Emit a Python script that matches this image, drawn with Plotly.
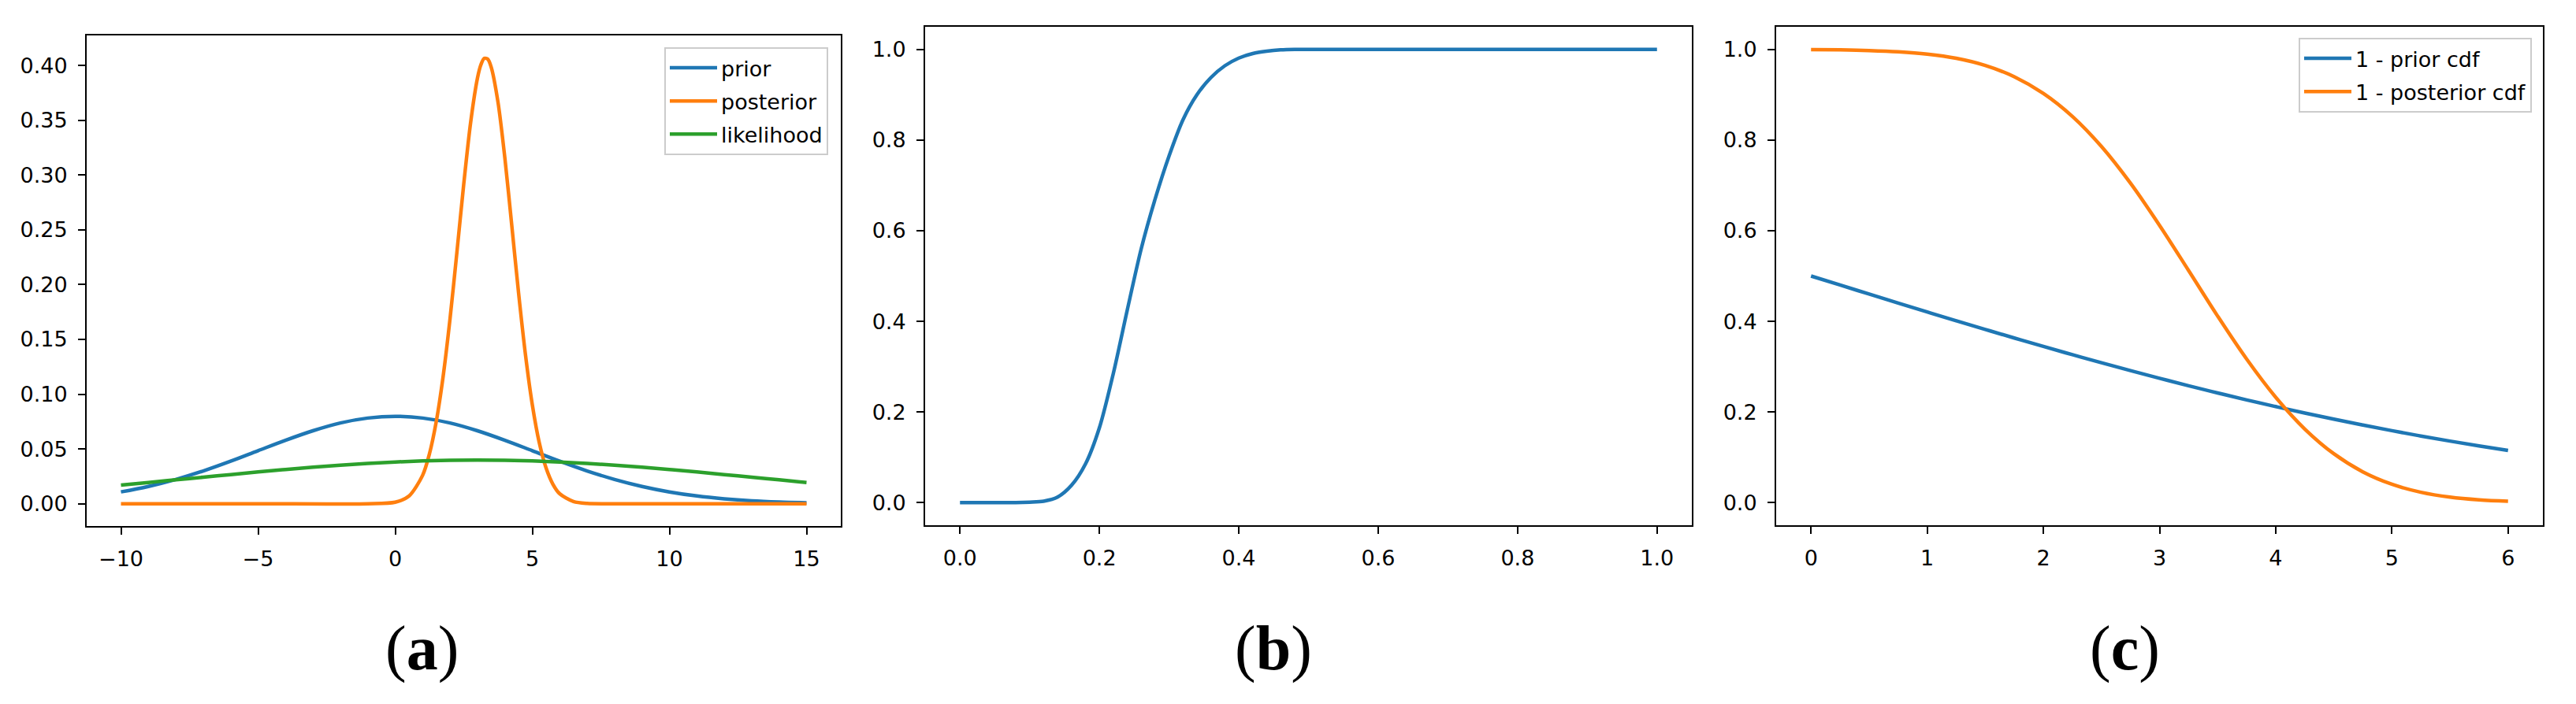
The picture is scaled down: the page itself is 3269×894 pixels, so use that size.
import plotly.graph_objects as go

# (a) densities
x_a = [-10, -9, -8, -7, -6, -5, -4, -3, -2, -1, 0, 1, 2, 3, 4, 5, 6, 7, 8, 9, 10, 11, 12, 13, 14, 15]
prior_a = [0.0108, 0.0158, 0.0222, 0.0299, 0.0388, 0.0484, 0.0579, 0.0666, 0.0737, 0.0782, 0.0798,
           0.0782, 0.0737, 0.0666, 0.0579, 0.0484, 0.0388, 0.0299, 0.0222, 0.0158, 0.0108,
           0.0071, 0.0045, 0.0027, 0.0016, 0.0009]
likelihood_a = [0.0171, 0.0194, 0.0218, 0.0242, 0.0266, 0.0290, 0.0312, 0.0333, 0.0352, 0.0368, 0.0381,
                0.0391, 0.0397, 0.0399, 0.0397, 0.0391, 0.0381, 0.0368, 0.0352, 0.0333, 0.0312,
                0.0290, 0.0266, 0.0242, 0.0218, 0.0194]
x_post = [-10, -5, -1, 0, 0.5, 1.0, 1.25, 1.5, 1.75, 2.0, 2.25, 2.5, 2.75, 3.0, 3.125, 3.25, 3.375, 3.5,
          3.75, 4.0, 4.25, 4.5, 4.75, 5.0, 5.25, 5.5, 5.75, 6.0, 6.5, 7.0, 8.0, 10, 15]
posterior_a = [0, 0, 0, 0.0014, 0.0069, 0.0259, 0.0456, 0.0753, 0.1165, 0.1688, 0.2293, 0.2917, 0.3477,
               0.3884, 0.4006, 0.4065, 0.4058, 0.3986, 0.3663, 0.3154, 0.2544, 0.1923, 0.1362, 0.0904,
               0.0562, 0.0328, 0.0179, 0.0091, 0.0020, 0.0003, 0, 0, 0]

# (b)
x_b = [0, 0.05, 0.08, 0.1, 0.12, 0.14, 0.16, 0.18, 0.2, 0.22, 0.24, 0.26, 0.28, 0.3, 0.32, 0.34, 0.36,
       0.38, 0.4, 0.42, 0.44, 0.46, 0.48, 0.5, 0.6, 0.7, 0.8, 0.9, 1.0]
y_b = [0, 0, 0, 0.001, 0.003, 0.012, 0.038, 0.085, 0.165, 0.285, 0.425, 0.56, 0.67, 0.765, 0.845, 0.90,
       0.938, 0.964, 0.981, 0.991, 0.996, 0.999, 1.0, 1.0, 1.0, 1.0, 1.0, 1.0, 1.0]

# (c) survival curves
x_c = [0, 0.25, 0.5, 0.75, 1.0, 1.25, 1.5, 1.75, 2.0, 2.25, 2.5, 2.75, 3.0, 3.25, 3.5, 3.75,
       4.0, 4.25, 4.5, 4.75, 5.0, 5.25, 5.5, 5.75, 6.0]
prior_c = [0.5, 0.4801, 0.4602, 0.4404, 0.4207, 0.4013, 0.3821, 0.3632, 0.3446, 0.3264, 0.3085,
           0.2912, 0.2743, 0.2578, 0.2420, 0.2266, 0.2119, 0.1977, 0.1841, 0.1711, 0.1587,
           0.1469, 0.1357, 0.1251, 0.1151]
posterior_c = [0.9996, 0.9990, 0.9976, 0.9949, 0.9897, 0.9804, 0.9646, 0.9398, 0.9030, 0.8522, 0.7858,
               0.7047, 0.6118, 0.5122, 0.4116, 0.3166, 0.2324, 0.1624, 0.1078, 0.0678, 0.0404,
               0.0228, 0.0121, 0.0061, 0.0029]

BLUE, ORANGE, GREEN = "#1f77b4", "#ff7f0e", "#2ca02c"
W, H = 3269, 894
LW = 4.5

fig = go.Figure()
fig.add_trace(go.Scatter(x=x_a, y=prior_a, name="prior", mode="lines", legendgroup="g1",
                         line=dict(color=BLUE, width=LW, shape="spline"),
                         xaxis="x", yaxis="y", legend="legend"))
fig.add_trace(go.Scatter(x=x_post, y=posterior_a, name="posterior", mode="lines", legendgroup="g2",
                         line=dict(color=ORANGE, width=LW, shape="spline", smoothing=0.8),
                         xaxis="x", yaxis="y", legend="legend"))
fig.add_trace(go.Scatter(x=x_a, y=likelihood_a, name="likelihood", mode="lines", legendgroup="g3",
                         line=dict(color=GREEN, width=LW, shape="spline"),
                         xaxis="x", yaxis="y", legend="legend"))
fig.add_trace(go.Scatter(x=x_b, y=y_b, mode="lines", showlegend=False,
                         line=dict(color=BLUE, width=LW, shape="spline", smoothing=0.8),
                         xaxis="x2", yaxis="y2"))
fig.add_trace(go.Scatter(x=x_c, y=prior_c, name="1 - prior cdf", mode="lines", legendgroup="g4",
                         line=dict(color=BLUE, width=LW, shape="spline"),
                         xaxis="x3", yaxis="y3", legend="legend2"))
fig.add_trace(go.Scatter(x=x_c, y=posterior_c, name="1 - posterior cdf", mode="lines", legendgroup="g5",
                         line=dict(color=ORANGE, width=LW, shape="spline"),
                         xaxis="x3", yaxis="y3", legend="legend2"))

tickfont = dict(family="DejaVu Sans", size=27, color="black")
ax = dict(showline=True, linecolor="black", linewidth=2, mirror=True, ticks="outside", ticklen=9,
          tickwidth=2, tickcolor="black", showgrid=False, zeroline=False, tickfont=tickfont,
          ticklabelstandoff=8)

def xs(a, b):
    return [a / W, b / W]

def ys(top, bottom):
    return [(H - bottom) / H, (H - top) / H]

legend_style = dict(xanchor="right", yanchor="top", bgcolor="rgba(255,255,255,0.8)",
                    bordercolor="#cccccc", borderwidth=2, tracegroupgap=4, itemwidth=60,
                    font=dict(family="DejaVu Sans", size=27, color="black"))

fig.update_layout(
    width=W, height=H, autosize=False,
    margin=dict(l=0, r=0, t=0, b=0),
    paper_bgcolor="white", plot_bgcolor="white",
    xaxis=dict(ax, domain=xs(110, 1067), range=[-11.25, 16.25], dtick=5, tick0=0, anchor="y"),
    yaxis=dict(ax, domain=ys(45, 668), range=[-0.02035, 0.4274], dtick=0.05, tick0=0, tickformat=".2f", anchor="x"),
    xaxis2=dict(ax, domain=xs(1174, 2147), range=[-0.05, 1.05], dtick=0.2, tick0=0, tickformat=".1f", anchor="y2"),
    yaxis2=dict(ax, domain=ys(34, 667), range=[-0.05, 1.05], dtick=0.2, tick0=0, tickformat=".1f", anchor="x2"),
    xaxis3=dict(ax, domain=xs(2254, 3227), range=[-0.3, 6.3], dtick=1, tick0=0, anchor="y3"),
    yaxis3=dict(ax, domain=ys(34, 667), range=[-0.05, 1.05], dtick=0.2, tick0=0, tickformat=".1f", anchor="x3"),
    legend=dict(legend_style, x=1051 / W, y=1 - 60 / H),
    legend2=dict(legend_style, x=3213 / W, y=1 - 48 / H),
)

# panel labels
for label, cx in [("a", 535), ("b", 1616), ("c", 2696)]:
    fig.add_annotation(text="(<b>" + label + "</b>)", x=cx / W, y=1 - 823 / H, xref="paper", yref="paper",
                       showarrow=False, xanchor="center", yanchor="middle",
                       font=dict(family="Liberation Serif", size=80, color="black"))

fig.write_html("out.html", config={"displayModeBar": False},
               post_script="document.body.style.margin='0';document.body.style.overflow='hidden';")
